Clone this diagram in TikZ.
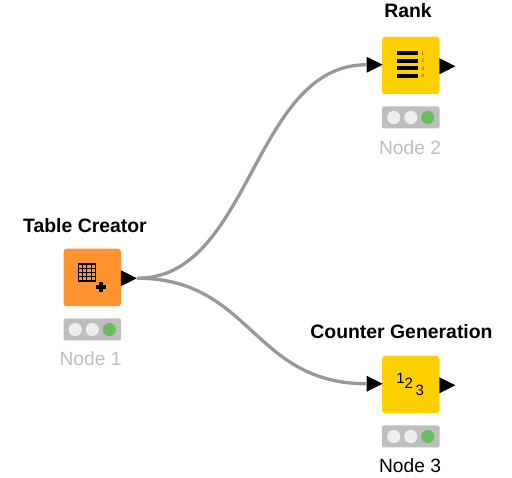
\documentclass[tikz,border=0pt]{standalone}
\usepackage{fontspec}
\setmainfont{Liberation Sans}
\usetikzlibrary{shapes.geometric}
\definecolor{carrot}{RGB}{255,148,49}
\definecolor{sun}{RGB}{255,208,0}
\definecolor{wiregray}{RGB}{152,152,152}
\definecolor{barback}{RGB}{190,190,190}
\definecolor{lamp}{RGB}{238,238,238}
\definecolor{okgreen}{RGB}{104,190,92}
\definecolor{fadetext}{RGB}{190,190,190}
\tikzset{
  x=1pt,y=-1pt,
  knode/.style={fill=#1,rounded corners=3pt,minimum size=57.5pt,inner sep=0pt},
  status/.style={fill=barback,rounded corners=2pt,minimum width=57.5pt,minimum height=22pt,inner sep=0pt},
  port/.style={isosceles triangle,isosceles triangle stretches,fill=black,inner sep=0pt,
    minimum width=16pt,minimum height=16pt,anchor=lower side},
  title/.style={font=\fontsize{19.4}{22}\selectfont\bfseries,anchor=base,inner sep=0pt},
  label/.style={font=\fontsize{19.2}{22}\selectfont,text=#1,anchor=base,inner sep=0pt},
  wire/.style={draw=wiregray,line width=3.3pt},
  digit/.style={font=\fontsize{#1}{#1}\selectfont,inner sep=0pt},
  % pictograms
  pics/lights/.style={code={
    \fill[lamp] (-17,0) circle (6.6);
    \fill[lamp] (0,0) circle (6.6);
    \fill[okgreen] (17,0) circle (6.6);
  }},
  pics/tableicon/.style={code={
    \draw[black,line width=1.2pt] (-14,-13.5) rectangle (3,3.5);
    \foreach \k in {-9.75,-5.5,-1.25} \draw[black,line width=0.65pt] (\k,-13.5) -- (\k,3.5);
    \foreach \k in {-9.25,-5,-0.75} \draw[black,line width=0.65pt] (-14,\k) -- (3,\k);
    \fill[black] (3.7,7.7) rectangle (13.7,11.3);
    \fill[black] (6.9,4.5) rectangle (10.5,14.5);
  }},
  pics/rankicon/.style={code={
    \foreach \k/\t [count=\j] in {-12/1,-4.5/2,3/3,10.5/4} {
      \fill[black] (-14,\k-2) rectangle (7,\k+2);
      \node[digit=5,text=black!60!sun] (r\j) at (12,\k) {\t};
    }
  }},
  pics/counticon/.style={code={
    \node[digit=15] (c1) at (-10.3,-6.5) {1};
    \node[digit=15] (c2) at (-2,-1.5) {2};
    \node[digit=15] (c3) at (9,5.5) {3};
  }},
}
\begin{document}
\begin{tikzpicture}
  \useasboundingbox (0,0) rectangle (512,478);
  \foreach \i/\cx/\cy/\c/\ic/\ttl/\tx/\ty/\lc/\lx/\ly in {
    1/92.25/277.5/carrot/tableicon/Table Creator/85/233/fadetext/90.5/366,
    2/410.75/65.5/sun/rankicon/Rank/408/18/fadetext/410/155,
    3/410.75/384.5/sun/counticon/Counter Generation/401.5/339/black/410/473}
  {
    \node[knode=\c] (n\i) at (\cx,\cy) {};
    \pic at (n\i) {\ic};
    \node[port] (o\i) at ([xshift=-0.5pt,yshift=-0.75pt]n\i.east) {};
    \node[status] (s\i) at (\cx,\cy+52) {};
    \pic at (s\i) {lights};
    \node[title] (t\i) at (\tx,\ty) {\ttl};
    \node[label=\lc] (l\i) at (\lx,\ly) {Node \i};
  }
  \node[port] (i2) at (366.5,64.75) {};
  \node[port] (i3) at (366.5,383.75) {};
  \draw[wire] (o1.apex) .. controls +(114,0) and +(-114,0) .. (i2.lower side);
  \draw[wire] (o1.apex) .. controls +(114,0) and +(-114,0) .. (i3.lower side);
\end{tikzpicture}
\end{document}
